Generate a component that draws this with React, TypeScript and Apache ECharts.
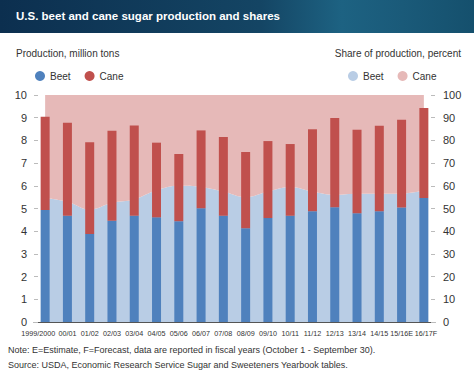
import React, { useEffect, useRef } from "react";
import * as echarts from "echarts";

const categories = ["1999/2000", "00/01", "01/02", "02/03", "03/04", "04/05", "05/06", "06/07", "07/08", "08/09", "09/10", "10/11", "11/12", "12/13", "13/14", "14/15", "15/16E", "16/17F"];
const beetProduction = [4.93, 4.68, 3.88, 4.46, 4.68, 4.61, 4.44, 5.01, 4.68, 4.13, 4.58, 4.68, 4.88, 5.05, 4.79, 4.88, 5.04, 5.46];
const caneProduction = [4.11, 4.1, 4.04, 3.97, 3.98, 3.29, 2.96, 3.43, 3.47, 3.36, 3.39, 3.16, 3.61, 3.94, 3.68, 3.77, 3.87, 3.97];
const beetShare = [54.5, 53.0, 49.5, 52.5, 54.0, 58.0, 60.0, 59.5, 57.5, 55.0, 57.5, 59.5, 57.5, 56.0, 56.5, 56.5, 56.5, 58.0];
const caneShare = [45.5, 47.0, 50.5, 47.5, 46.0, 42.0, 40.0, 40.5, 42.5, 45.0, 42.5, 40.5, 42.5, 44.0, 43.5, 43.5, 43.5, 42.0];
const leftTicks = { min: 0, max: 10, interval: 1 };
const rightTicks = { min: 0, max: 100, interval: 10 };

const FONT = "'Liberation Sans', Arial, sans-serif";
const NARROW = "'Liberation Sans Narrow', 'Liberation Sans', Arial, sans-serif";

export default function App() {
  const ref = useRef<HTMLDivElement>(null);
  useEffect(() => {
    if (!ref.current) return;
    const chart = echarts.init(ref.current, undefined, { renderer: "svg" });
    chart.setOption({
      animation: false,
      backgroundColor: "#ffffff",
      textStyle: { fontFamily: FONT },
      grid: { left: 34, right: 39, top: 95, bottom: 55 },
      legend: [
        {
          data: ["Beet", "Cane"],
          left: 35,
          top: 71,
          padding: 0,
          icon: "circle",
          itemWidth: 10,
          itemHeight: 10,
          itemGap: 14,
          textStyle: { fontSize: 10, color: "#333", fontFamily: FONT },
        },
        {
          data: ["Beet share", "Cane share"],
          left: 348,
          top: 71,
          padding: 0,
          icon: "circle",
          itemWidth: 10,
          itemHeight: 10,
          itemGap: 14,
          formatter: (n: string) => n.replace(" share", ""),
          textStyle: { fontSize: 10, color: "#333", fontFamily: FONT },
        },
      ],
      graphic: [
        {
          type: "rect",
          left: 0,
          top: 0,
          shape: { width: 474, height: 33 },
          style: {
            fill: new echarts.graphic.LinearGradient(0, 0, 1, 0, [
              { offset: 0, color: "#0c2f4f" },
              { offset: 0.55, color: "#144564" },
              { offset: 0.72, color: "#1d6282" },
              { offset: 0.85, color: "#1a5a79" },
              { offset: 1, color: "#15506d" },
            ]),
          },
          silent: true,
        },
        {
          type: "text",
          left: 16,
          top: 10,
          style: { text: "U.S. beet and cane sugar production and shares", fill: "#ffffff", font: `bold 11.5px ${FONT}` },
        },
        {
          type: "text",
          left: 16,
          top: 48,
          style: { text: "Production, million tons", fill: "#333", font: `10px ${FONT}` },
        },
        {
          type: "text",
          right: 13,
          top: 48,
          style: { text: "Share of production, percent", fill: "#333", font: `10px ${FONT}`, textAlign: "right" },
        },
        {
          type: "text",
          left: 8,
          top: 345,
          style: { text: "Note: E=Estimate, F=Forecast, data are reported in fiscal years (October 1 - September 30).", fill: "#333", font: `9px ${FONT}` },
        },
        {
          type: "text",
          left: 8,
          top: 360,
          style: { text: "Source: USDA, Economic Research Service Sugar and Sweeteners Yearbook tables.", fill: "#333", font: `9px ${FONT}` },
        },
      ],
      xAxis: {
        type: "category",
        data: categories,
        boundaryGap: true,
        axisLine: { lineStyle: { color: "#555", width: 1 } },
        axisTick: { alignWithLabel: true, length: 4, lineStyle: { color: "#555" } },
        axisLabel: {
          interval: 0,
          fontSize: 7.2,
          color: "#333",
          margin: 8,
          fontFamily: NARROW,
          formatter: (v: string, i: number) =>
            i === 0 ? `{first|${v}}` : i === categories.length - 1 ? `{last|${v}}` : v,
          rich: {
            first: { fontSize: 7.2, color: "#333", fontFamily: NARROW, padding: [0, 14, 0, 0] },
            last: { fontSize: 7.2, color: "#333", fontFamily: NARROW, padding: [0, 0, 0, 4] },
          },
        },
      },
      yAxis: [
        {
          type: "value",
          ...leftTicks,
          position: "left",
          axisLine: { show: false },
          axisTick: { show: true, inside: true, length: 4, lineStyle: { color: "#bbb" } },
          splitLine: { show: false },
          axisLabel: { fontSize: 11, color: "#333", margin: 7 },
        },
        {
          type: "value",
          ...rightTicks,
          position: "right",
          axisLine: { show: false },
          axisTick: { show: true, inside: true, length: 4, lineStyle: { color: "#bbb" } },
          splitLine: { show: false },
          axisLabel: { fontSize: 11, color: "#333", margin: 8 },
        },
      ],
      series: [
        {
          name: "Beet share",
          type: "line",
          yAxisIndex: 1,
          stack: "share",
          data: beetShare,
          smooth: 0.4,
          symbol: "none",
          lineStyle: { width: 0 },
          areaStyle: { color: "#b9cde5", opacity: 1 },
          itemStyle: { color: "#b9cde5" },
          z: 1,
        },
        {
          name: "Cane share",
          type: "line",
          yAxisIndex: 1,
          stack: "share",
          data: caneShare,
          smooth: 0.4,
          symbol: "none",
          lineStyle: { width: 0 },
          areaStyle: { color: "#e6b9b8", opacity: 1 },
          itemStyle: { color: "#e6b9b8" },
          z: 1,
        },
        {
          name: "Beet",
          type: "bar",
          yAxisIndex: 0,
          stack: "prod",
          data: beetProduction,
          barWidth: 9,
          itemStyle: { color: "#4f81bd" },
          z: 3,
        },
        {
          name: "Cane",
          type: "bar",
          yAxisIndex: 0,
          stack: "prod",
          data: caneProduction,
          barWidth: 9,
          itemStyle: { color: "#c0504d" },
          z: 3,
        },
      ],
    });
    return () => chart.dispose();
  }, []);
  return <div ref={ref} style={{ position: "fixed", left: 0, top: 0, width: 474, height: 377 }} />;
}
